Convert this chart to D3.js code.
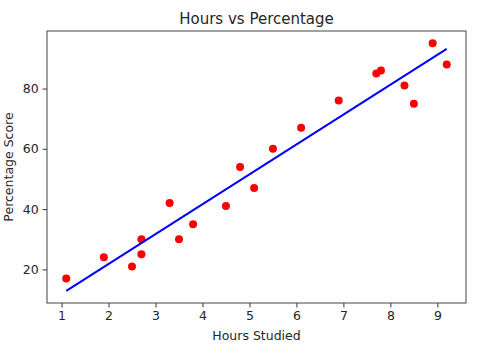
<!DOCTYPE html>
<html>
<head>
<meta charset="utf-8">
<script src="https://cdn.jsdelivr.net/npm/d3@7"></script>
<style>
  body { margin: 0; background: #fff; }
  text { font-family: "DejaVu Sans", sans-serif; fill: #262626; }
</style>
</head>
<body>
<div id="chart"></div>
<script>
// training points
const hours = [2.5, 5.1, 8.5, 3.5, 9.2, 5.5, 8.3, 2.7, 7.7, 4.5, 3.3, 1.1, 8.9, 1.9, 6.1, 2.7, 4.8, 3.8, 6.9, 7.8];
const scores = [21, 47, 75, 30, 88, 60, 81, 25, 85, 41, 42, 17, 95, 24, 67, 30, 54, 35, 76, 86];
// fitted line ends
const lineHours = [1.1, 9.2];
const lineScores = [12.9, 93.2];
const xTicks = [1, 2, 3, 4, 5, 6, 7, 8, 9];
const yTicks = [20, 40, 60, 80];

const width = 477, height = 354;
const margin = {top: 31, right: 11, bottom: 51, left: 47};

const svg = d3.select('#chart').append('svg')
    .attr('width', width)
    .attr('height', height);

const x = d3.scaleLinear()
    .domain([0.69, 9.61])
    .range([margin.left, width - margin.right]);
const y = d3.scaleLinear()
    .domain([8.85, 99.1])
    .range([height - margin.bottom, margin.top]);

// points
svg.selectAll('circle')
    .data(hours)
    .enter()
    .append('circle')
    .attr('cx', (d) => x(d))
    .attr('cy', (d, i) => y(scores[i]))
    .attr('r', 4)
    .attr('fill', 'red');

// regression line
const line = d3.line()
    .x((d) => x(d))
    .y((d, i) => y(lineScores[i]));
svg.append('path')
    .datum(lineHours)
    .attr('d', line)
    .attr('fill', 'none')
    .attr('stroke', 'blue')
    .attr('stroke-width', 2);

// axes
const xAxis = svg.append('g')
    .attr('transform', `translate(0,${height - margin.bottom})`)
    .call(d3.axisBottom(x).tickValues(xTicks).tickSize(4.4).tickPadding(4).tickSizeOuter(0));
const yAxis = svg.append('g')
    .attr('transform', `translate(${margin.left},0)`)
    .call(d3.axisLeft(y).tickValues(yTicks).tickSize(4.4).tickPadding(4).tickSizeOuter(0));
[xAxis, yAxis].forEach(a => {
    a.select('.domain').remove();
    a.selectAll('line').attr('stroke', '#333');
    a.selectAll('text').attr('font-size', 12.5).attr('fill', '#262626')
        .style('font-family', '"DejaVu Sans", sans-serif');
});

// frame
svg.append('rect')
    .attr('x', margin.left)
    .attr('y', margin.top)
    .attr('width', width - margin.left - margin.right)
    .attr('height', height - margin.top - margin.bottom)
    .attr('fill', 'none')
    .attr('stroke', '#444')
    .attr('stroke-width', 1);

// labels
svg.append('text')
    .attr('x', (margin.left + width - margin.right) / 2)
    .attr('y', 24)
    .attr('text-anchor', 'middle')
    .attr('font-size', 15)
    .text('Hours vs Percentage');
svg.append('text')
    .attr('x', (margin.left + width - margin.right) / 2)
    .attr('y', 340)
    .attr('text-anchor', 'middle')
    .attr('font-size', 12.5)
    .text('Hours Studied');
svg.append('text')
    .attr('transform', `translate(13,${(margin.top + height - margin.bottom) / 2}) rotate(-90)`)
    .attr('text-anchor', 'middle')
    .attr('font-size', 12.5)
    .text('Percentage Score');
</script>
</body>
</html>
